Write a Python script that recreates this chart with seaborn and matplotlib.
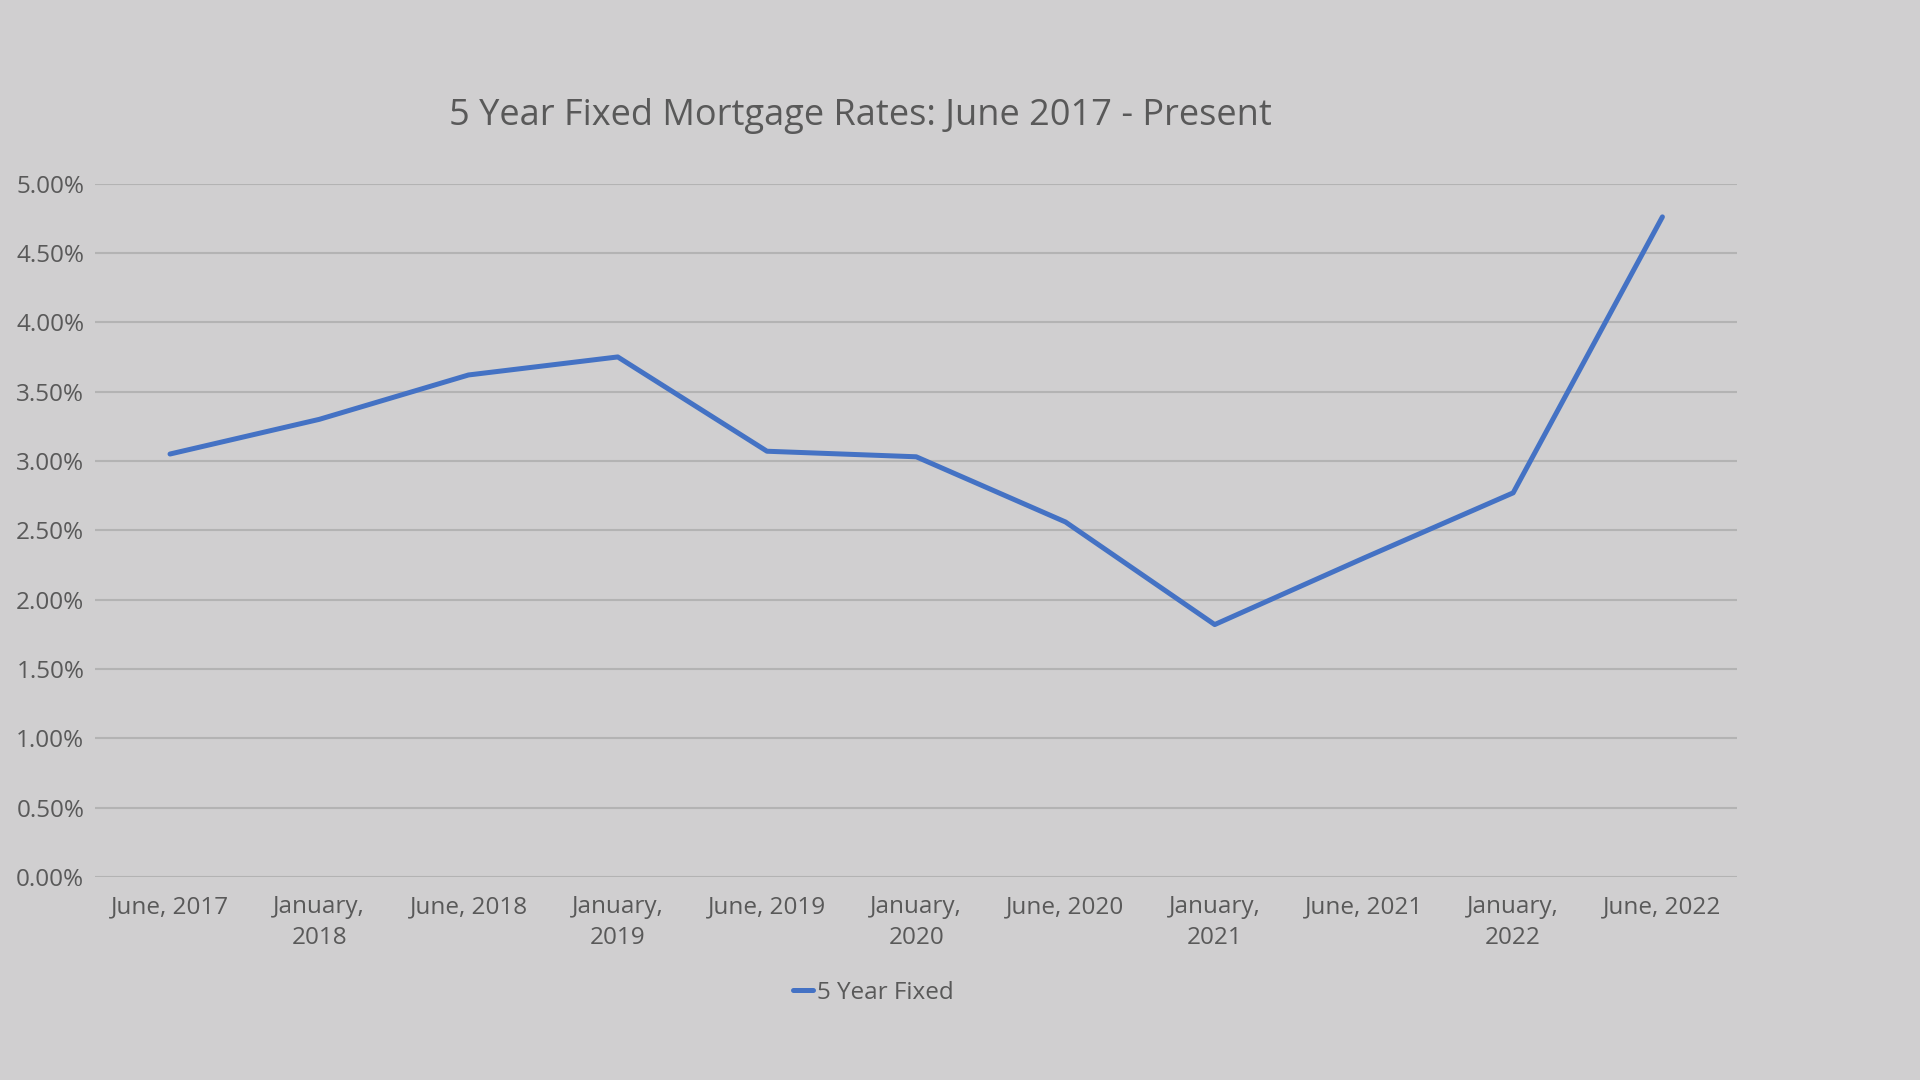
import matplotlib
matplotlib.use("Agg")
import matplotlib.pyplot as plt
import seaborn as sns
import pandas as pd
from matplotlib.ticker import FuncFormatter

periods = ["June, 2017", "January,\n2018", "June, 2018", "January,\n2019", "June, 2019",
           "January,\n2020", "June, 2020", "January,\n2021", "June, 2021", "January,\n2022",
           "June, 2022"]
rates = [3.05, 3.30, 3.62, 3.75, 3.07, 3.03, 2.56, 1.82, 2.30, 2.77, 4.76]
series_name = "5 Year Fixed"
title = "5 Year Fixed Mortgage Rates: June 2017 - Present"

df = pd.DataFrame({"Period": periods, "Rate": rates, "Series": series_name})

bg = "#d0cfd0"
text_color = "#595959"
grid_color = "#b3b3b3"
line_color = "#4472c4"

sns.set_theme(style="white")
plt.rcParams["font.family"] = ["Open Sans", "DejaVu Sans"]

fig = plt.figure(figsize=(19.2, 10.8), dpi=100, facecolor=bg)
ax = fig.add_axes([0.0497, 0.188, 0.855, 0.642])
ax.set_facecolor(bg)

sns.lineplot(data=df, x="Period", y="Rate", hue="Series", palette=[line_color],
             linewidth=3.6, ax=ax, sort=False, legend=True)

ax.set_ylim(0, 5)
ax.set_xlim(-0.5, len(periods) - 0.5)
ax.set_yticks([i * 0.5 for i in range(11)])
ax.yaxis.set_major_formatter(FuncFormatter(lambda v, p: f"{v:.2f}%"))
ax.grid(axis="y", color=grid_color, linewidth=1.5)
ax.grid(axis="x", visible=False)
for s in ax.spines.values():
    s.set_visible(False)
ax.tick_params(axis="both", length=0, colors=text_color, labelsize=17.5)
ax.tick_params(axis="x", pad=13)
ax.tick_params(axis="y", pad=8)
for lbl in ax.get_xticklabels():
    lbl.set_linespacing(1.4)
ax.set_xlabel("")
ax.set_ylabel("")

fig.text(0.448, 0.893, title, ha="center", va="center", fontsize=26, color=text_color)

ax.legend_.remove()
leg = fig.legend(handles=ax.get_lines()[:1], labels=[series_name], loc="center",
                 bbox_to_anchor=(0.455, 0.081), frameon=False, fontsize=17.5,
                 handlelength=0.8, handletextpad=0.2, labelcolor=text_color)

fig.savefig("out.png", dpi=100, facecolor=bg)
